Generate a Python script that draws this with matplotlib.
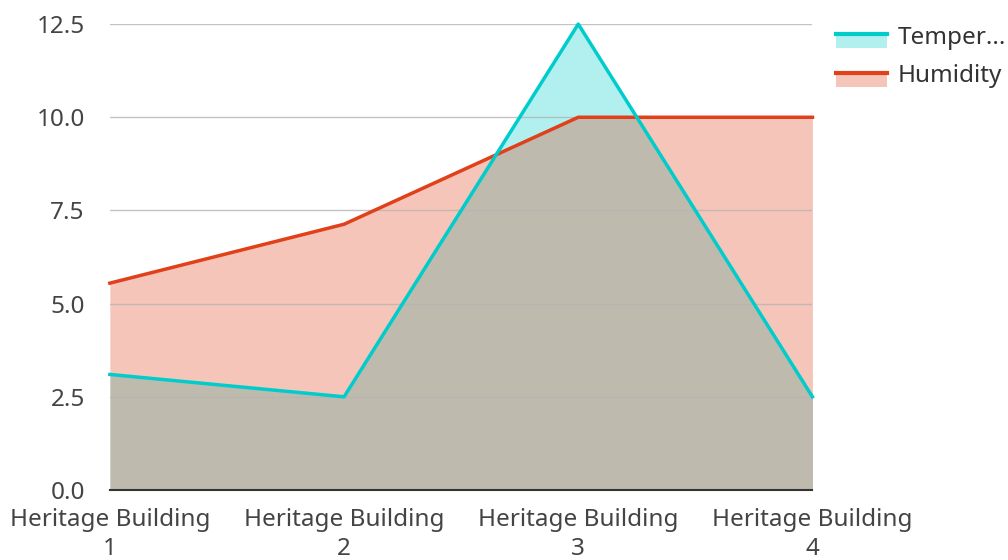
import numpy as np
import matplotlib.pyplot as plt
from matplotlib.patches import Rectangle
from matplotlib.lines import Line2D
from matplotlib.legend_handler import HandlerBase

plt.rcParams['font.family'] = ['Noto Sans', 'DejaVu Sans']

buildings = ["Heritage Building\n1", "Heritage Building\n2",
             "Heritage Building\n3", "Heritage Building\n4"]
temperature = [3.1, 2.5, 12.5, 2.5]
humidity = [5.55, 7.13, 10.0, 10.0]
series_names = ["Temper...", "Humidity"]
colors = ["#00cccc", "#e0401a"]


class Key:
    def __init__(self, c):
        self.c = c


class KeyHandler(HandlerBase):
    # line sitting on top of a filled box, like the reference legend
    def create_artists(self, legend, orig_handle, xdescent, ydescent,
                       width, height, fontsize, trans):
        c = orig_handle.c
        top = -ydescent + 0.55 * height
        h = 0.8 * height
        box = Rectangle((-xdescent, top - h), width, h, facecolor=c, alpha=0.3,
                        edgecolor="none", transform=trans)
        ln = Line2D([-xdescent, -xdescent + width], [top, top], color=c,
                    lw=3, transform=trans)
        return [box, ln]


fig = plt.figure(figsize=(10.08, 5.6), dpi=100)
ax = fig.add_axes([0.109, 0.125, 0.697, 0.832])

x = np.arange(len(buildings))
for vals, c in zip([temperature, humidity], colors):
    ax.fill_between(x, 0, vals, color=c, alpha=0.3, lw=0, zorder=1)
for vals, c in zip([humidity, temperature], colors[::-1]):
    ax.plot(x, vals, color=c, lw=2.5, zorder=3, clip_on=False)

ax.set_xlim(0, 3)
ax.set_ylim(0, 12.5)
ax.set_yticks([0, 2.5, 5, 7.5, 10, 12.5])
ax.set_yticklabels(["0.0", "2.5", "5.0", "7.5", "10.0", "12.5"])
ax.set_xticks(x)
ax.set_xticklabels(buildings, linespacing=1.3)
ax.grid(axis="y", color="#b4b4b4", lw=1, alpha=0.8, zorder=2)
ax.set_axisbelow(False)
for s in ["left", "right", "top"]:
    ax.spines[s].set_visible(False)
ax.spines["bottom"].set_color("#333333")
ax.spines["bottom"].set_linewidth(1.5)
ax.spines["bottom"].set_zorder(4)
ax.tick_params(length=0, labelsize=17.5, colors="#444444")
ax.tick_params(axis="x", pad=13)
ax.tick_params(axis="y", pad=18)

keys = [Key(c) for c in colors]
leg = fig.legend(keys, series_names, handler_map={Key: KeyHandler()},
                 loc="upper left", bbox_to_anchor=(0.822, 0.967),
                 frameon=False, fontsize=17.5, labelcolor="#333333",
                 handlelength=2.1, handletextpad=0.45, labelspacing=0.6,
                 borderaxespad=0, borderpad=0.3)

fig.savefig("out.png", dpi=100)
